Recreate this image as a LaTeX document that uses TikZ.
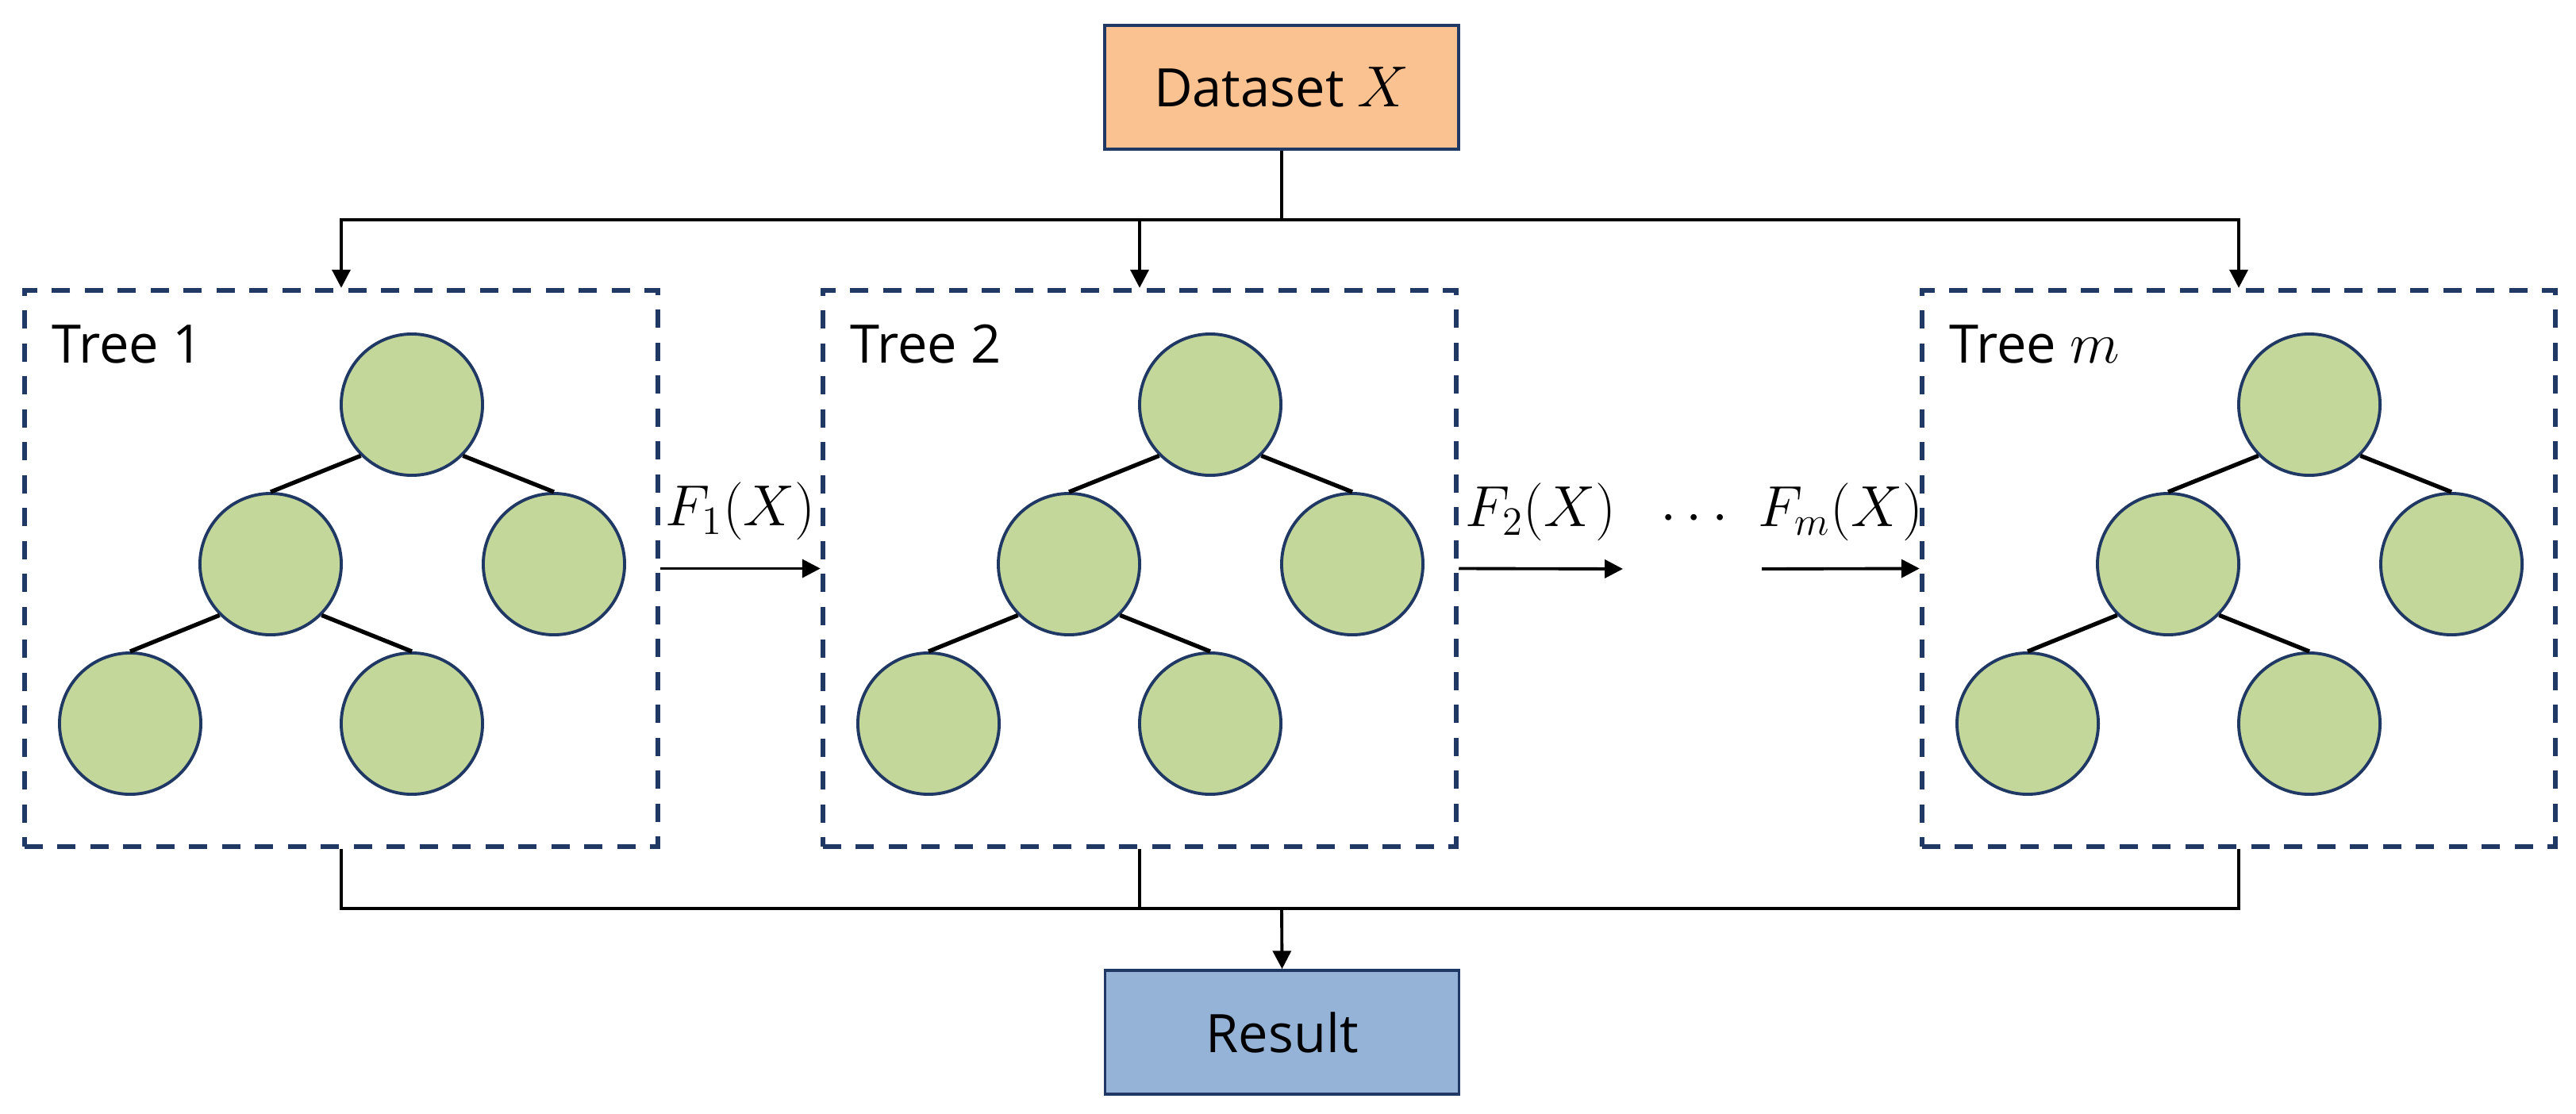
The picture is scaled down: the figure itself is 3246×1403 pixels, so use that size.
\documentclass[tikz,border=0pt]{standalone}
\usepackage[no-math]{fontspec}
\setmainfont{Open Sans}
\DeclareMathSizes{19}{20.74}{14.4}{12}
\usetikzlibrary{arrows.meta,positioning}
\definecolor{navy}{HTML}{203864}
\definecolor{leafgreen}{HTML}{C4D79B}
\definecolor{peach}{HTML}{FAC191}
\definecolor{resblue}{HTML}{95B3D7}

\begin{document}
\begin{tikzpicture}[x=0.01cm,y=-0.01cm,
        every node/.style={font=\fontsize{19}{23}\selectfont},
        databox/.style={draw=navy,line width=1pt,minimum width=4.46cm,minimum height=1.56cm,inner sep=0pt},
        treebox/.style={draw=navy,line width=1.7pt,dash pattern=on 6.5pt off 5.3pt,minimum width=7.98cm,minimum height=7.01cm,inner sep=0pt},
        leaf/.style={circle,draw=navy,fill=leafgreen,line width=1.1pt,minimum size=1.78cm,inner sep=0pt},
        arr/.style={line width=1.1pt,-{Triangle[length=6.5pt,width=6.5pt]}},
        flab/.style={above=9.5pt,inner sep=0pt}]
        \useasboundingbox (0,0) rectangle (3246,1403);

        %input and output
        \node[databox,fill=peach] (D) at (1615,110) {Dataset $X$};
        \node[databox,fill=resblue] (R) at (1615.5,1301) {Result};
        \coordinate (busT) at (1615,277);
        \coordinate (busB) at (1615,1145);

        %trees
        \foreach \n/\x/\lab in {1/31/{Tree 1},2/1037/{Tree 2},m/2422/{Tree $m$}}{
            \node[treebox] (T\n) at (\x+399,716.5) {};
            \begin{scope}[shift={(\x,366)}]
                \node[anchor=base west,inner sep=0pt] (L\n) at (34,91) {\lab};
                \node[leaf] (r\n) at (488,144) {};
                \node[leaf] (ml\n) at (310,345) {};
                \node[leaf] (mr\n) at (667,345) {};
                \node[leaf] (bl\n) at (133,546) {};
                \node[leaf] (br\n) at (488,546) {};
                \draw[line width=1.5pt] (r\n.south west) -- (ml\n.north);
                \draw[line width=1.5pt] (r\n.south east) -- (mr\n.north);
                \draw[line width=1.5pt] (ml\n.south west) -- (bl\n.north);
                \draw[line width=1.5pt] (ml\n.south east) -- (br\n.north);
            \end{scope}
        }

        %buses
        \draw[line width=1.1pt] (D.south) -- (busT);
        \foreach \n in {1,2,m}{
            \draw[arr] (busT) -| (T\n.north);
            \draw[line width=1.1pt] (T\n.south) |- (busB);
        }
        \draw[arr] (busB) -- (R.north);

        %passing between trees
        \node[anchor=base] (dots) at (2135,670) {$\cdots$};
        \coordinate (g1) at (2045,717);
        \coordinate (g2) at (2220,717);
        \draw[arr] (T1.east) -- (T2.west) node[midway,flab] {$F_1(X)$};
        \draw[arr] (T2.east) -- (g1) node[midway,flab] {$F_2(X)$};
        \draw[arr] (g2) -- (Tm.west) node[midway,flab] {$F_m(X)$};
\end{tikzpicture}
\end{document}
